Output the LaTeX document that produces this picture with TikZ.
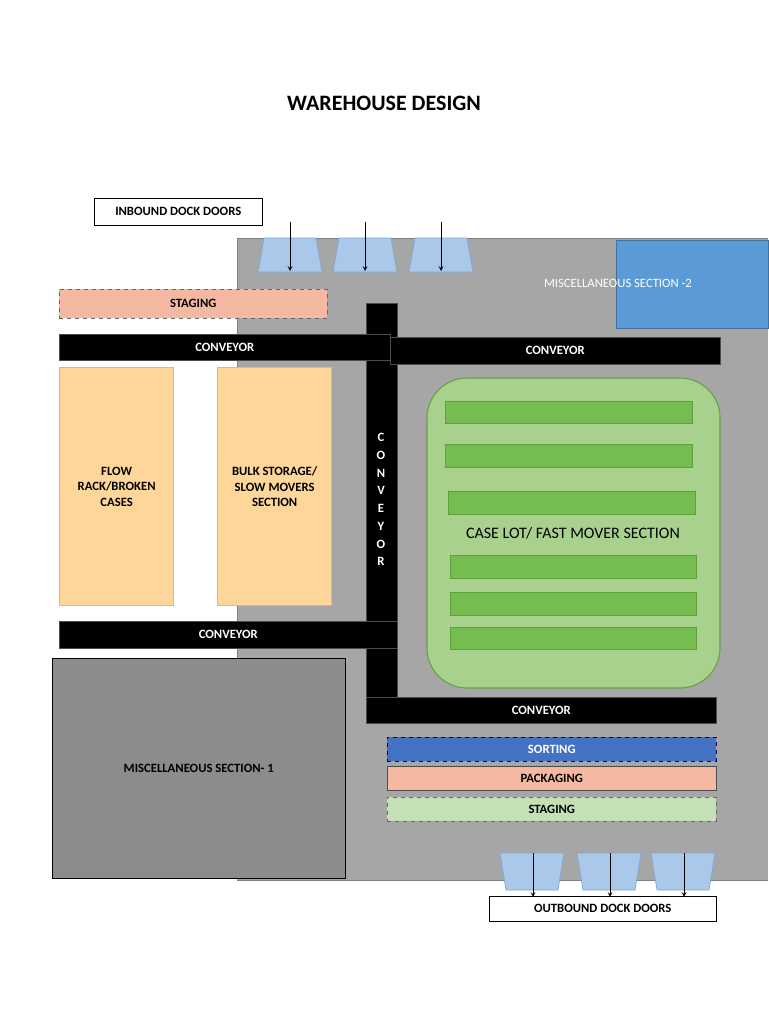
\documentclass[tikz,border=0pt]{standalone}
\usepackage{fontspec}
\setmainfont{Carlito}
\definecolor{dockc}{HTML}{A9C8EA}
\definecolor{dockd}{HTML}{7FA6D6}
\definecolor{orf}{HTML}{FFD699}
\definecolor{ord}{HTML}{FFC000}
\definecolor{barf}{HTML}{74BD4E}
\definecolor{bard}{HTML}{5FA03C}
\definecolor{clf}{HTML}{A9D18E}
\definecolor{cld}{HTML}{6A9E45}
\definecolor{salm}{HTML}{F5B9A3}
\definecolor{sortc}{HTML}{4472C4}
\definecolor{stg}{HTML}{C5E0B4}
\definecolor{m2c}{HTML}{5B9BD5}
\definecolor{m2d}{HTML}{41719C}
\definecolor{mainc}{HTML}{A6A6A6}
\definecolor{m1c}{HTML}{8C8C8C}
\begin{document}
\begin{tikzpicture}[x=0.75pt,y=-0.75pt,
 lbl/.style={font=\bfseries\fontsize{9.5}{11.5}\selectfont,align=center},
 conv/.style={fill=black,draw=black!70},
 dock/.style={fill=dockc,draw=dockd,line width=0.5pt},
 orng/.style={fill=orf,draw=ord,line width=1pt},
 bar/.style={fill=barf,draw=bard},
 arr/.style={-stealth,line width=0.6pt}]
\useasboundingbox (0,0) rectangle (768,1024);
\fill[white] (0,0) rectangle (768,1024);
\node[font=\bfseries\fontsize{16.5}{20}\selectfont] (title) at (384,103) {WAREHOUSE DESIGN};
% main gray area
\fill[mainc] (237,238) rectangle (768,880);
\draw[black!50] (237,238) -- (768,238);
\draw[black!50] (237,880) -- (768,880);
\draw[black!50] (237,238) -- (237,658);
% misc 1
\node[draw=black,fill=m1c,minimum width=293*0.75pt,minimum height=220*0.75pt,inner sep=0,lbl,anchor=north west] (m1) at (52,658) {MISCELLANEOUS SECTION- 1};
% misc 2
\fill[m2c,draw=m2d] (616,240) rectangle (768,328);
\node[text=white,font=\fontsize{9.5}{11}\selectfont] (m2) at (618,283) {MISCELLANEOUS SECTION -2};
% inbound
\node[draw,lbl,minimum width=168*0.75pt,minimum height=27*0.75pt,inner sep=0,anchor=north west] (inb) at (94,198) {INBOUND DOCK DOORS};
\foreach \x/\n in {258/a,333/b,409/c}{
 \draw[dock] (\x+6,238) -- (\x+58,238) -- (\x+64,272) -- (\x,272) -- cycle;
 \coordinate (t\n) at (\x+32,222); \coordinate (b\n) at (\x+32,271);
 \draw[arr] (t\n) -- (b\n);}
% staging top
\node[fill=salm,draw=black!60,dashed,lbl,minimum width=268*0.75pt,minimum height=29*0.75pt,inner sep=0,anchor=north west] (st1) at (59,289) {STAGING};
% conveyors
\node[conv,minimum width=31*0.75pt,minimum height=394*0.75pt,inner sep=0,anchor=north west] (cv) at (366,303) {};
\node[conv,lbl,text=white,minimum width=331*0.75pt,minimum height=26*0.75pt,inner sep=0,anchor=north west] (c1) at (59,334) {CONVEYOR};
\node[conv,lbl,text=white,minimum width=330*0.75pt,minimum height=27*0.75pt,inner sep=0,anchor=north west] (c2) at (390,337) {CONVEYOR};
\foreach \l [count=\i] in {C,O,N,V,E,Y,O,R}
 \node[lbl,text=white] (cl\i) at (381,420+\i*17.7) {\l};
\node[conv,lbl,text=white,minimum width=338*0.75pt,minimum height=27*0.75pt,inner sep=0,anchor=north west] (c3) at (59,621) {CONVEYOR};
\node[conv,lbl,text=white,minimum width=350*0.75pt,minimum height=26*0.75pt,inner sep=0,anchor=north west] (c4) at (366,697) {CONVEYOR};
% racks
\node[orng,lbl,minimum width=114*0.75pt,minimum height=238*0.75pt,inner sep=0,anchor=north west] (fr) at (59,367) {FLOW\\RACK/BROKEN\\CASES};
\node[orng,lbl,minimum width=114*0.75pt,minimum height=238*0.75pt,inner sep=0,anchor=north west] (bs) at (217,367) {BULK STORAGE/\\SLOW MOVERS\\SECTION};
% case lot
\draw[fill=clf,draw=cld,rounded corners=40*0.75pt,line width=0.8pt] (427,378) rectangle (720,688);
\foreach \xa/\ya/\xb/\yb in {445/401/692/423,445/444/692/467,448/491/695/514,450/555/696/578,450/592/696/615,450/627/696/649}
 \draw[bar] (\xa,\ya) rectangle (\xb,\yb);
\node[font=\fontsize{12}{14}\selectfont] (cl) at (573,533) {CASE LOT/ FAST MOVER SECTION};
% bottom stack
\node[fill=sortc,draw=blue!40!black,dashed,lbl,text=white,minimum width=329*0.75pt,minimum height=24*0.75pt,inner sep=0,anchor=north west] (so) at (387,737) {SORTING};
\node[fill=salm,draw=black!70,lbl,minimum width=329*0.75pt,minimum height=24*0.75pt,inner sep=0,anchor=north west] (pk) at (387,766) {PACKAGING};
\node[fill=stg,draw=black!60,dashed,lbl,minimum width=329*0.75pt,minimum height=24*0.75pt,inner sep=0,anchor=north west] (st2) at (387,797) {STAGING};
% outbound
\foreach \x/\n in {500/d,577/e,651/f}{
 \draw[dock] (\x,853) -- (\x+64,853) -- (\x+58,890) -- (\x+6,890) -- cycle;
 \coordinate (u\n) at (\x+33,853); \coordinate (v\n) at (\x+33,897);}
\node[draw,fill=white,lbl,minimum width=227*0.75pt,minimum height=25*0.75pt,inner sep=0,anchor=north west] (outb) at (489,896) {OUTBOUND DOCK DOORS};
\foreach \n in {d,e,f} \draw[arr] (u\n) -- (v\n);
\end{tikzpicture}
\end{document}
